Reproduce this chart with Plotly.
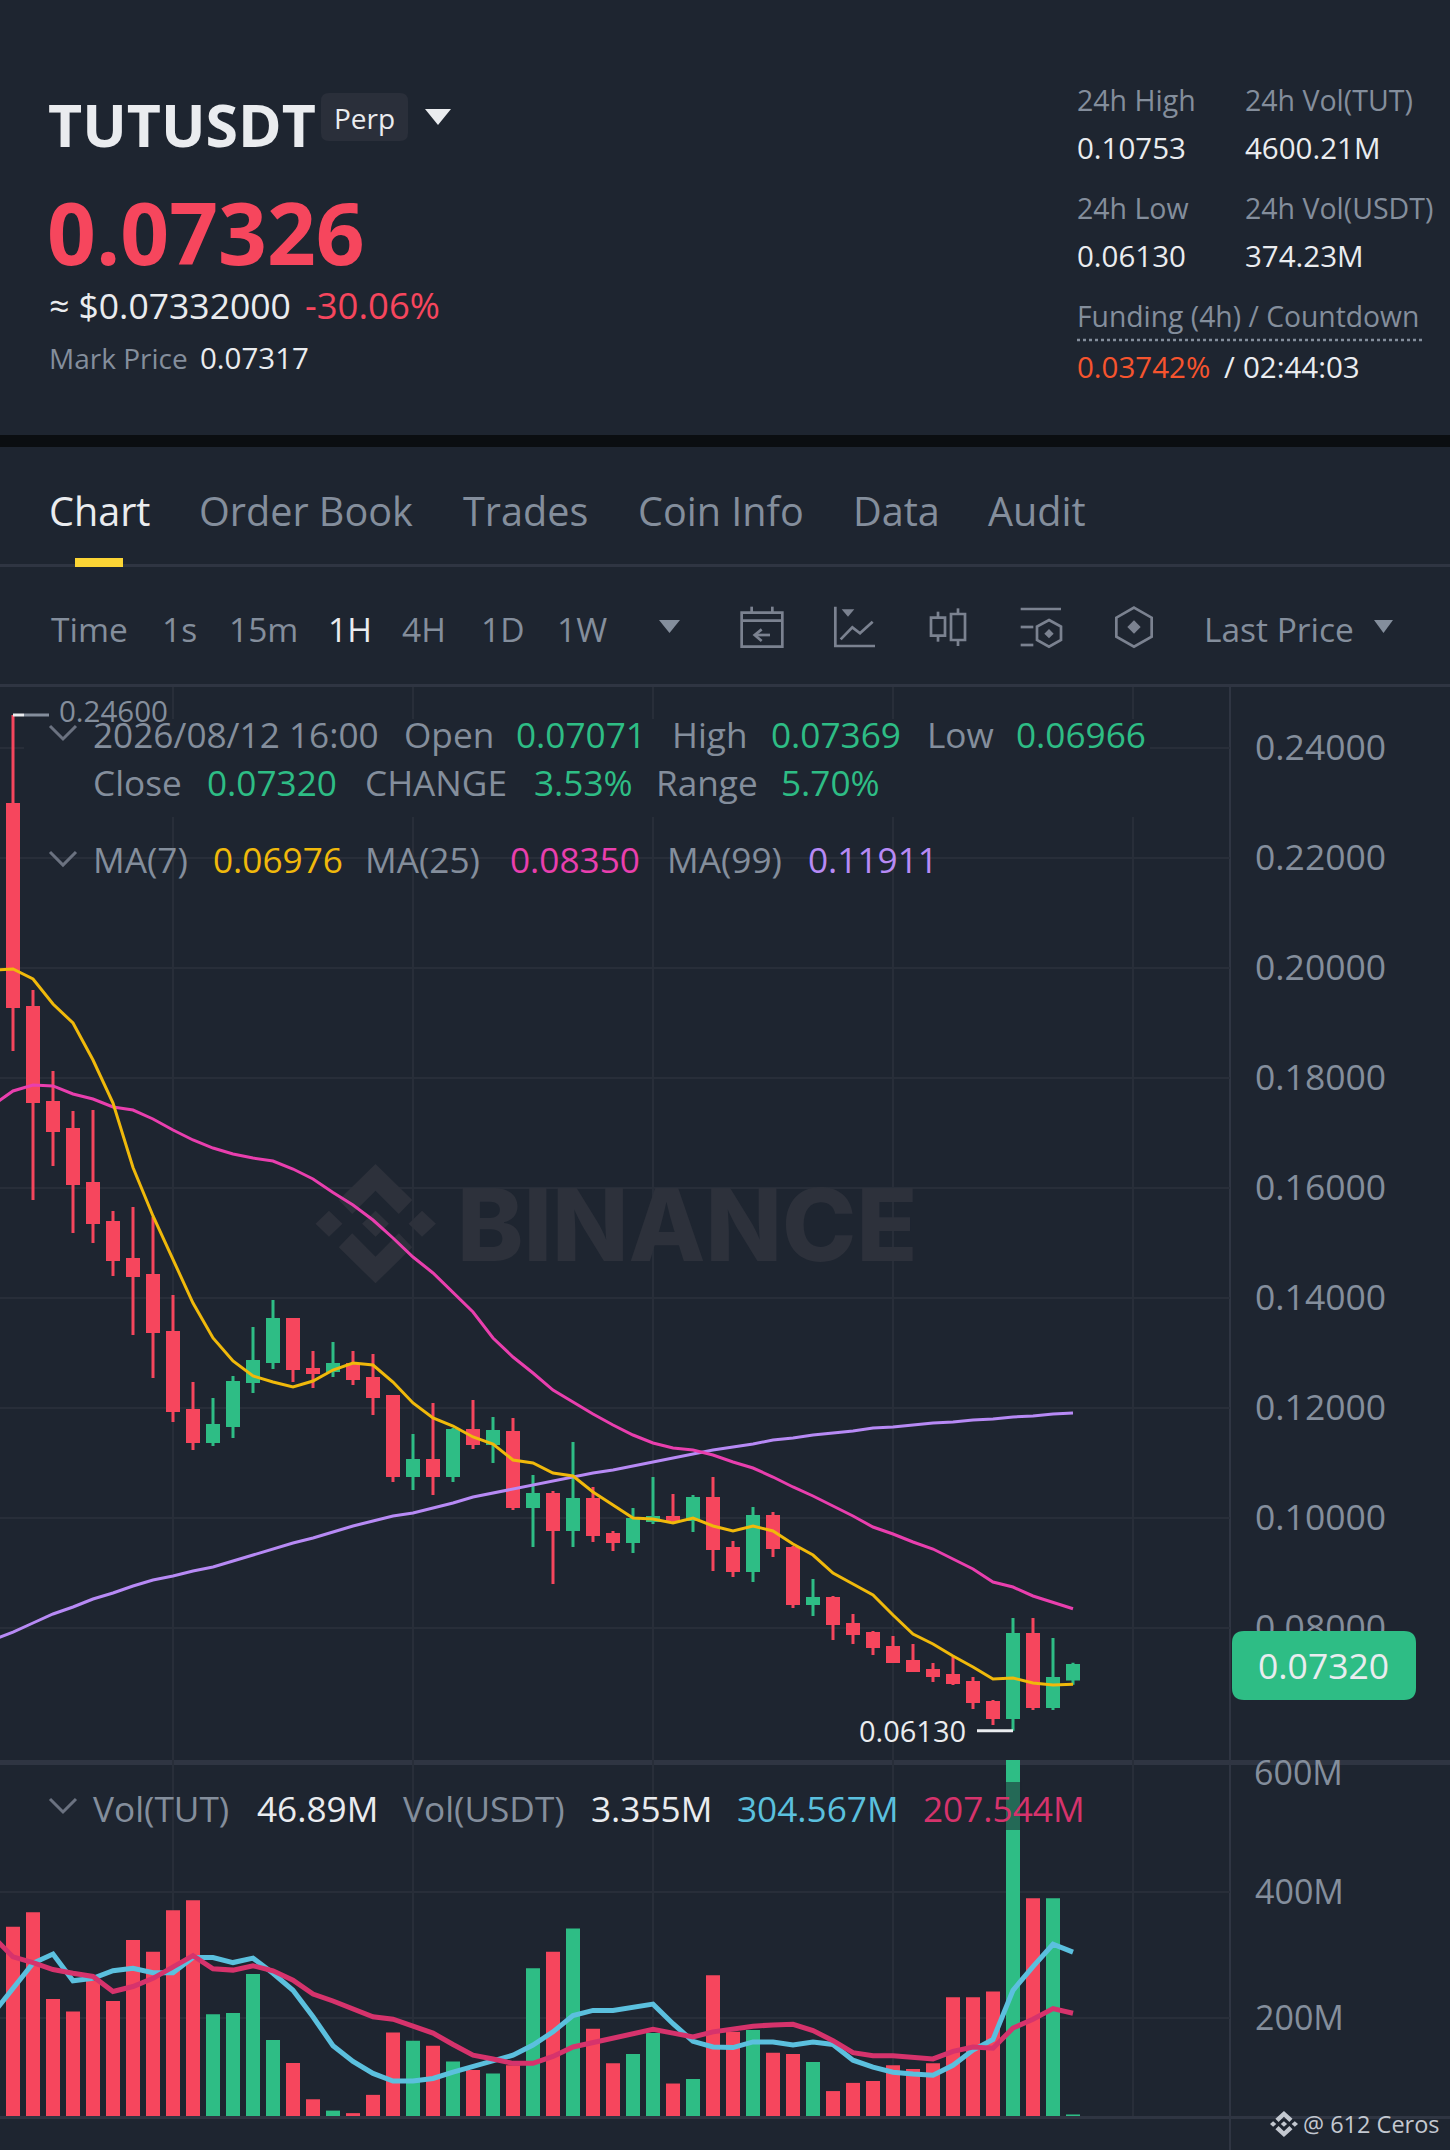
import plotly.graph_objects as go

# ---------- data ----------
candle_index = list(range(54))
highs = [.24600,.19600,.18127,.17400,.17418,.15582,.15655,.15473,.14055,.12473,.12182,.12582,.13473,.13964,.13636,.13036,.13200,.13036,
         .12982,.12236,.11527,.12091,.11636,.12145,.11836,.11818,.10782,.10491,.11382,.10564,.09764,.10182,.10745,.10436,.10418,.10745,
         .09582,.10200,.10109,.09491,.08891,.08582,.08255,.07945,.07855,.07709,.07364,.07473,.07109,.06691,.08182,.08182,.07818,.07369]
lows = [.18491,.15782,.16400,.15182,.15000,.14400,.13327,.12545,.11745,.11236,.11309,.11455,.12273,.12709,.12473,.12364,.12564,.12418,
        .11873,.10655,.10509,.10418,.10655,.11255,.11000,.10145,.09473,.08800,.09473,.09564,.09400,.09364,.09891,.09891,.09745,.09036,
        .08927,.08836,.09291,.08364,.08218,.07782,.07709,.07509,.07364,.07200,.07018,.06964,.06527,.06236,.06130,.06509,.06509,.06966]
opens = [.22973,.19282,.17555,.17064,.16082,.15373,.14700,.14409,.13373,.11955,.11391,.11682,.12482,.12845,.13609,.12700,.12682,.12791,
         .12536,.12209,.10773,.11045,.10773,.11591,.11355,.11555,.10209,.10427,.09791,.10336,.09700,.09573,.09955,.10009,.09973,.10355,
         .09445,.09045,.10027,.09445,.08445,.08536,.08064,.07900,.07645,.07391,.07227,.07136,.07009,.06645,.06373,.07882,.06573,.07071]
closes = [.19300,.17573,.17045,.16082,.15373,.14700,.14409,.13391,.11955,.11391,.11682,.12464,.12845,.13609,.12718,.12645,.12791,.12536,
          .12209,.10773,.11045,.10773,.11591,.11355,.11573,.10209,.10427,.09791,.10336,.09700,.09573,.09973,.10009,.09973,.10355,.09445,
          .09045,.10027,.09464,.08445,.08536,.08082,.07900,.07664,.07391,.07227,.07136,.07009,.06664,.06373,.07882,.06573,.07082,.07320]

ma_index = list(range(-1, 54))
ma7 = [.19964,.19982,.19800,.19345,.19000,.18327,.17545,.16373,.15491,.14691,.13909,.13273,.12855,.12582,.12473,.12382,.12491,.12691,
       .12818,.12782,.12473,.12091,.11818,.11673,.11473,.11345,.11055,.11000,.10818,.10764,.10473,.10236,.10000,.09982,.09909,.10000,
       .09855,.09764,.09855,.09764,.09527,.09327,.09000,.08800,.08600,.08236,.07891,.07709,.07491,.07291,.07073,.07091,.07000,.06964,.06976]
ma25 = [.17509,.17764,.17873,.17855,.17709,.17618,.17473,.17418,.17255,.17055,.16873,.16727,.16618,.16545,.16491,.16345,.16164,.15918,
        .15691,.15418,.15091,.14745,.14455,.14091,.13745,.13273,.12927,.12636,.12327,.12109,.11891,.11691,.11509,.11364,.11273,.11236,
        .11145,.11018,.10909,.10745,.10564,.10400,.10218,.10036,.09836,.09709,.09564,.09436,.09255,.09073,.08836,.08745,.08582,.08473,.08350]
ma99 = [.07782,.07927,.08091,.08255,.08382,.08527,.08636,.08764,.08873,.08945,.09036,.09109,.09218,.09327,.09436,.09545,.09636,.09745,
        .09855,.09945,.10036,.10091,.10182,.10273,.10382,.10455,.10527,.10600,.10673,.10745,.10818,.10873,.10945,.11018,.11091,.11164,
        .11236,.11291,.11345,.11418,.11455,.11509,.11545,.11582,.11636,.11655,.11691,.11727,.11745,.11782,.11800,.11836,.11855,.11891,.11911]

volumes_m = [345,368,230,210.5,259,227,324,305,371,387,206,208,270,165,128.5,71,53,49,78,177,164,156,131,117.5,112,125,279,305,342,183,
             128,143,176,96,103,268,178,181,145,143,130,84,97,100,125,119,128,233,233,242,620,390,390,46.89]
vol_ma_fast = [207,247,287,301.5,259,263,275,279,272,272,296,296,288,295,271,244,202,156,131,112,100,100,104,114,123,132,141,157,178,204,
               212,212,217,222,191,163,154,153,162,162,157,162,158,133,122,114,111,109,125,149,166,244,281.5,317,304.567]
vol_ma_slow = [329,297,288,277,271,266,242,250,263,281,299,278,276,283,275,260,238,227,215,202,198,186,176,158,141,135,128,128,139,154,
               161,168,176,182,176,170,178,182,187,189,190,180,164,145,140,140,138,135,147,154,152,184,198,215,207.544]

price_ticks = [0.08, 0.10, 0.12, 0.14, 0.16, 0.18, 0.20, 0.22, 0.24]
vol_ticks = [200, 400]
vol_tick_labels = ["200M", "400M"]
grid_candles = [8, 20, 32, 44, 56]

# ---------- look ----------
W, H = 1450, 2150
BG = "#1e2530"; GRID = "#282e39"; SEP = "#2f3542"; MUTED = "#848e9c"; WHITE = "#eaecef"
GREEN = "#2ebd85"; RED = "#f6465d"; YEL = "#f0b90b"; PINK = "#e93fae"; PURP = "#b78af5"
BLUE = "#5bc0de"; CRIM = "#d6336c"
FONT = "Open Sans"
TEXT_DY = -1.5             # Open Sans sits a little low in its line box

PLOT_R = 1230
P_TOP, P_BOT = 687, 1760
V_TOP, V_BOT = 1760, 2116
CX0, CDX = 13, 20          # x pixel of candle 0, pixels per candle
PY0, PK = 2068, 5500       # price axis scale: pixel = PY0 - price*PK
VY0, VK = 2144, 0.63       # volume axis scale: pixel = VY0 - vol*VK

def X(px): return px / W
def Y(py): return 1 - py / H
def dx(px): return (px - CX0) / CDX
def dy(py): return (PY0 - py) / PK

shapes, annos = [], []

def rect(x0, y0, x1, y1, color, layer="below", opacity=1):
    shapes.append(dict(type="rect", xref="paper", yref="paper", x0=X(x0), x1=X(x1), y0=Y(y0), y1=Y(y1),
                       fillcolor=color, line=dict(width=0), layer=layer, opacity=opacity))

def poly(pts, color=None, stroke=None, sw=2.7, close=True, layer="above"):
    d = "M " + " L ".join(f"{X(a):.5f} {Y(b):.5f}" for a, b in pts) + (" Z" if close else "")
    shapes.append(dict(type="path", xref="paper", yref="paper", path=d, fillcolor=color if color else "rgba(0,0,0,0)",
                       line=dict(color=stroke if stroke else "rgba(0,0,0,0)", width=sw if stroke else 0), layer=layer))

def rrect(x0, y0, x1, y1, r, color, layer="above"):
    a, b, c, e = X(x0), X(x1), Y(y0), Y(y1)
    rx, ry = r / W, r / H
    d = (f"M {a+rx} {c} L {b-rx} {c} Q {b} {c} {b} {c-ry} L {b} {e+ry} Q {b} {e} {b-rx} {e} "
         f"L {a+rx} {e} Q {a} {e} {a} {e+ry} L {a} {c-ry} Q {a} {c} {a+rx} {c} Z")
    shapes.append(dict(type="path", xref="paper", yref="paper", path=d, fillcolor=color, line=dict(width=0), layer=layer))

def txt(x, y, s, size, color=WHITE, anchor="left", weight=400, family=FONT):
    annos.append(dict(xref="paper", yref="paper", x=X(x), y=Y(y + TEXT_DY), text=s, showarrow=False, xanchor=anchor, yanchor="middle",
                      borderpad=0, borderwidth=0, font=dict(family=family, size=size, color=color, weight=weight)))

# ---------- header ----------
rect(0, 435, W, 447, "#0b0e11")
txt(48, 125.5, "TUTUSDT", 59, WHITE, weight=700)
rrect(321, 93, 408, 141, 8, "#2a2f3a", layer="below")
txt(364.5, 119, "Perp", 28, WHITE, "center")
poly([(425, 109), (451, 109), (438, 125)], color=WHITE)
txt(47, 233, "0.07326", 85.5, RED, weight=700)
txt(49, 306, "≈ $0.07332000", 35.5, WHITE, weight=500)
txt(305, 306, "-30.06%", 36.5, RED)
txt(49, 359, "Mark Price", 28, MUTED)
txt(200, 359, "0.07317", 29.5, WHITE)

for x, a, b in [(1077, "24h High", "0.10753"), (1245, "24h Vol(TUT)", "4600.21M")]:
    txt(x, 101, a, 28.5, MUTED); txt(x, 149, b, 29.5, WHITE)
for x, a, b in [(1077, "24h Low", "0.06130"), (1245, "24h Vol(USDT)", "374.23M")]:
    txt(x, 209, a, 28.5, MUTED); txt(x, 257, b, 29.5, WHITE)
txt(1077, 317, "Funding (4h) / Countdown", 28.3, MUTED)
shapes.append(dict(type="line", xref="paper", yref="paper", x0=X(1077), x1=X(1422), y0=Y(340), y1=Y(340),
                   line=dict(color=MUTED, width=2.5, dash="dot"), layer="below"))
txt(1077, 368, "0.03742%", 29.5, "#f6542e")
txt(1224, 368, "/", 29.5, WHITE)
txt(1243, 368, "02:44:03", 29.5, WHITE)

# ---------- tabs ----------
rect(0, 564, W, 567, SEP)
rect(75, 558, 123, 567, "#fcd535", layer="above")
for x, s, c in [(49, "Chart", WHITE), (199, "Order Book", MUTED), (463, "Trades", MUTED),
                (638, "Coin Info", MUTED), (853, "Data", MUTED), (988, "Audit", MUTED)]:
    txt(x, 512, s, 39.6, c, weight=500)

# ---------- toolbar ----------
rect(0, 684, W, 687, SEP)
for x, s, c, w in [(51, "Time", MUTED, 400), (162, "1s", MUTED, 400), (229, "15m", MUTED, 400), (328, "1H", WHITE, 500),
                   (402, "4H", MUTED, 400), (481, "1D", MUTED, 400), (557, "1W", MUTED, 400), (1204, "Last Price", MUTED, 400)]:
    txt(x, 631, s, 33.5, c, weight=w)
poly([(659, 620), (680, 620), (669.5, 633)], color=MUTED)
poly([(1374, 620), (1393, 620), (1383.5, 633)], color=MUTED)

ICON = "#7b8290"
def ix(X_): return 730 + X_ / 3
def iy(Y_): return 595 + Y_ / 3
def ipoly(pts, **k): poly([(ix(a), iy(b)) for a, b in pts], **k)

ipoly([(35, 53), (157, 53), (157, 155), (35, 155)], stroke=ICON)
ipoly([(35, 77), (157, 77)], stroke=ICON, close=False)
ipoly([(65, 35), (65, 53)], stroke=ICON, close=False)
ipoly([(127, 35), (127, 53)], stroke=ICON, close=False)
ipoly([(120, 120), (75, 120)], stroke=ICON, close=False)
ipoly([(95, 103), (74, 120), (95, 138)], stroke=ICON, close=False)
ipoly([(316, 35), (316, 153), (435, 153)], stroke=ICON, close=False)
ipoly([(335, 43), (373, 43), (354, 65)], color=ICON)
ipoly([(332, 133), (367, 97), (390, 115), (428, 80)], stroke=ICON, close=False)
ipoly([(603, 68), (645, 68), (645, 122), (603, 122)], stroke=ICON)
ipoly([(624, 50), (624, 68)], stroke=ICON, close=False)
ipoly([(624, 122), (624, 140)], stroke=ICON, close=False)
ipoly([(663, 57), (705, 57), (705, 135), (663, 135)], stroke=ICON)
ipoly([(684, 40), (684, 57)], stroke=ICON, close=False)
ipoly([(684, 135), (684, 153)], stroke=ICON, close=False)
ipoly([(872, 42), (993, 42)], stroke=ICON, close=False)
ipoly([(872, 96), (910, 96)], stroke=ICON, close=False)
ipoly([(872, 150), (910, 150)], stroke=ICON, close=False)
ipoly([(957, 75), (993, 95), (993, 135), (957, 155), (921, 135), (921, 95)], stroke=ICON)
ipoly([(957, 102), (971, 116), (957, 130), (943, 116)], color=ICON)
ipoly([(1212, 38), (1265, 68), (1265, 125), (1212, 155), (1159, 125), (1159, 68)], stroke=ICON)
ipoly([(1212, 76), (1232, 96), (1212, 116), (1192, 96)], color=ICON)

# ---------- panel furniture ----------
rect(0, 1760, W, 1765, SEP)
rect(0, 2116, W, 2119, SEP)
rect(1229, 687, 1231, H, SEP)

# mask that hides the grid behind the OHLC legend
shapes.append(dict(type="rect", xref="x", yref="y", x0=dx(24), x1=dx(1150), y0=dy(817), y1=dy(719),
                   fillcolor=BG, line=dict(width=0), layer="between"))

# watermark logo (under the traces)
LOGO_PARTS = [
    [(185, 42), (275, 150), (242, 192), (185, 122), (128, 192), (95, 150)],
    [(185, 400), (275, 292), (242, 250), (185, 320), (128, 250), (95, 292)],
    [(71, 182), (104, 221), (71, 260), (38, 221)],
    [(299, 182), (333, 221), (299, 260), (266, 221)],
    [(185, 182), (218, 221), (185, 260), (152, 221)],
]
WM = "#2d313b"
for part in LOGO_PARTS:
    pts = [(300 + a / 2.45, 1150 + b / 3) for a, b in part]
    d = "M " + " L ".join(f"{dx(a):.5f} {dy(b):.6f}" for a, b in pts) + " Z"
    shapes.append(dict(type="path", xref="x", yref="y", path=d, fillcolor=WM, line=dict(width=0), layer="between"))
txt(457, 1225.5, "BINANCE", 100, WM, weight=800, family="Inter")

# ---------- legends ----------
def chevron(y0):
    poly([(50, y0), (63, y0 + 13), (76, y0)], stroke="#6b7280", sw=3, close=False)
chevron(726); chevron(852); chevron(1799)

L = 35.2
for x, y, s, c in [
    (93, 735, "2026/08/12 16:00", MUTED), (404, 735, "Open", MUTED), (516, 735, "0.07071", GREEN),
    (672, 735, "High", MUTED), (771, 735, "0.07369", GREEN), (927, 735, "Low", MUTED), (1016, 735, "0.06966", GREEN),
    (93, 784, "Close", MUTED), (207, 784, "0.07320", GREEN), (365, 784, "CHANGE", MUTED), (534, 784, "3.53%", GREEN),
    (656, 784, "Range", MUTED), (781, 784, "5.70%", GREEN),
    (93, 861, "MA(7)", MUTED), (213, 861, "0.06976", YEL), (365, 861, "MA(25)", MUTED), (510, 861, "0.08350", PINK),
    (667, 861, "MA(99)", MUTED), (808, 861, "0.11911", PURP),
    (93, 1809, "Vol(TUT)", MUTED), (257, 1809, "46.89M", WHITE), (403, 1809, "Vol(USDT)", MUTED), (591, 1809, "3.355M", WHITE),
    (737, 1809, "304.567M", BLUE), (923, 1809, "207.544M", CRIM),
]:
    txt(x, y, s, L, c)

# extreme labels
hi = max(highs); lo = min(lows)
shapes.append(dict(type="line", xref="x", yref="y", x0=dx(13), x1=dx(24), y0=hi, y1=hi, line=dict(color=WHITE, width=3), layer="above"))
shapes.append(dict(type="line", xref="x", yref="y", x0=dx(24), x1=dx(49), y0=hi, y1=hi, line=dict(color=MUTED, width=3), layer="above"))
annos.append(dict(xref="x", yref="y", x=dx(58), y=hi, yshift=4, text=f"{hi:.5f}", showarrow=False, xanchor="left", yanchor="middle", borderpad=0,
                  font=dict(family=FONT, size=29.5, color=MUTED)))
shapes.append(dict(type="line", xref="x", yref="y", x0=dx(977), x1=dx(1013), y0=lo, y1=lo, line=dict(color=WHITE, width=3), layer="above"))
annos.append(dict(xref="x", yref="y", x=dx(967), y=lo, text=f"{lo:.5f}", showarrow=False, xanchor="right", yanchor="middle", borderpad=0,
                  font=dict(family=FONT, size=29, color=WHITE)))

# current price tag
rrect(1232, 1631, 1416, 1700, 12, GREEN)
txt(1323, 1666, f"{closes[-1]:.5f}", 35.5, WHITE, "center")

# 600M sits against the panel edge
txt(1254, 1773, "600M", 34, MUTED)

# legend tint over the tallest volume bar
rect(1004, 1782, 1022, 1830, BG, layer="above", opacity=0.55)

# footer mark
for part in LOGO_PARTS:
    pts = [(1270 + (a - 38) * 28 / 295, 2111 + (b - 42) * 26 / 358) for a, b in part]
    poly(pts, color="#c3c8d0")
txt(1303, 2125, "@ 612 Ceros", 23.5, "#c3c8d0")

# ---------- traces ----------
fig = go.Figure()
fig.add_trace(go.Candlestick(
    x=candle_index, open=opens, high=highs, low=lows, close=closes, whiskerwidth=0,
    increasing=dict(line=dict(color=GREEN, width=3), fillcolor=GREEN),
    decreasing=dict(line=dict(color=RED, width=3), fillcolor=RED),
    xaxis="x", yaxis="y", hoverinfo="skip"))
for vals, col in [(ma99, PURP), (ma25, PINK), (ma7, YEL)]:
    fig.add_trace(go.Scatter(x=ma_index, y=vals, mode="lines", line=dict(color=col, width=3),
                             xaxis="x", yaxis="y", hoverinfo="skip"))
fig.add_trace(go.Bar(x=candle_index, y=volumes_m, width=0.7,
                     marker=dict(color=[GREEN if c >= o else RED for o, c in zip(opens, closes)], line=dict(width=0)),
                     xaxis="x2", yaxis="y2", hoverinfo="skip"))
for vals, col in [(vol_ma_fast, BLUE), (vol_ma_slow, CRIM)]:
    fig.add_trace(go.Scatter(x=ma_index, y=vals, mode="lines", line=dict(color=col, width=5),
                             xaxis="x2", yaxis="y2", hoverinfo="skip"))

xdom = [0, PLOT_R / W]
xrange = [dx(0), dx(PLOT_R)]
xcommon = dict(domain=xdom, range=xrange, tickmode="array", tickvals=grid_candles, showticklabels=False, ticks="",
               showgrid=True, gridcolor=GRID, gridwidth=2, zeroline=False, showline=False, fixedrange=True)
ycommon = dict(side="right", showgrid=True, gridcolor=GRID, gridwidth=2, zeroline=False, showline=False, ticks="",
               ticklabelstandoff=24, fixedrange=True, tickmode="array")

fig.update_layout(
    width=W, height=H, autosize=False, margin=dict(l=0, r=0, t=0, b=0),
    paper_bgcolor=BG, plot_bgcolor="rgba(0,0,0,0)", showlegend=False, boxgap=0.45, boxgroupgap=0,
    font=dict(family=FONT, color=MUTED), shapes=shapes, annotations=annos, bargap=0.3,
    xaxis=dict(**xcommon, anchor="y", rangeslider=dict(visible=False)),
    xaxis2=dict(**xcommon, anchor="y2"),
    yaxis=dict(**ycommon, domain=[Y(P_BOT), Y(P_TOP)], range=[dy(P_BOT), dy(P_TOP)], tickvals=price_ticks, tickformat=".5f", anchor="x",
               tickfont=dict(family=FONT, size=35.5, color=MUTED)),
    yaxis2=dict(**ycommon, domain=[Y(V_BOT), Y(V_TOP)], range=[(VY0 - V_BOT) / VK, (VY0 - V_TOP) / VK], tickvals=vol_ticks,
                ticktext=vol_tick_labels, anchor="x2", tickfont=dict(family=FONT, size=34, color=MUTED)),
)

fig.write_html("out.html", config=dict(displayModeBar=False, responsive=False),
               post_script="document.body.style.margin='0';document.body.style.background='#1e2530';document.documentElement.style.overflow='hidden';")
